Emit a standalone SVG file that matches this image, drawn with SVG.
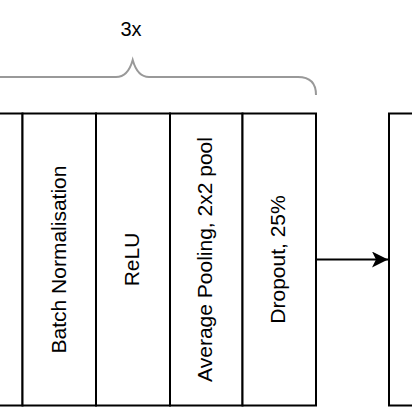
<svg xmlns="http://www.w3.org/2000/svg" width="412" height="412" viewBox="0 0 412 412">
<defs>
<style>
.box{fill:#fff;stroke:#000;stroke-width:2}
.lbl{font-family:"Liberation Sans",Arial,sans-serif;font-size:21px;fill:#000;text-anchor:middle}
.brace{fill:none;stroke:#999;stroke-width:2}
.conn{fill:none;stroke:#000;stroke-width:2}
</style>
<marker id="arr" markerUnits="userSpaceOnUse" markerWidth="20" markerHeight="20" refX="16" refY="8" orient="auto">
<path d="M0,0 L16,8 L0,16 L4,8 Z" fill="#000"/>
</marker>
</defs>
<rect width="412" height="412" fill="#fff"/>
<g id="brace">
<path class="brace" d="M-10 77 L116 77 Q128 77 132.7 60 Q137.5 77 149 77 L298 77 Q316 77 316 95"/>
<text class="lbl" x="131" y="36" style="font-size:20px">3x</text>
</g>
<g id="prev">
<rect class="box" x="-20" y="113.5" width="42.5" height="292"/>
</g>
<g id="batchnorm">
<rect class="box" x="22.5" y="113.5" width="73.5" height="292"/>
<text class="lbl" transform="translate(59.25,259.5) rotate(-90)" y="7">Batch Normalisation</text>
</g>
<g id="relu">
<rect class="box" x="96" y="113.5" width="74" height="292"/>
<text class="lbl" transform="translate(133,259.5) rotate(-90)" y="6">ReLU</text>
</g>
<g id="avgpool">
<rect class="box" x="170" y="113.5" width="72.5" height="292"/>
<text class="lbl" transform="translate(206.25,259.5) rotate(-90)" y="6">Average Pooling, 2x2 pool</text>
</g>
<g id="dropout">
<rect class="box" x="242.5" y="113.5" width="73.5" height="292"/>
<text class="lbl" transform="translate(279.25,259.5) rotate(-90)" y="6">Dropout, 25%</text>
</g>
<g id="next">
<rect class="box" x="389" y="113.5" width="60" height="292"/>
</g>
<g id="connectors">
<path class="conn" d="M316 259.5 L388 259.5" marker-end="url(#arr)"/>
</g>
</svg>
